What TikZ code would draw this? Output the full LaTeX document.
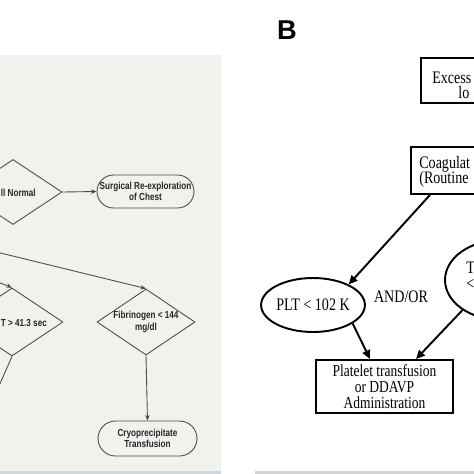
\documentclass[tikz,border=0pt]{standalone}
\usepackage{fontspec}
\setmainfont{Liberation Serif}
\newfontfamily\arialfont[FakeStretch=0.8]{Liberation Sans}
\newfontfamily\headfont{Liberation Sans}
\newfontfamily\timesfont[FakeStretch=0.8]{Liberation Serif}
\usetikzlibrary{arrows.meta,calc,shapes.geometric}
\definecolor{panelgray}{HTML}{F1F1EE}
\definecolor{barblue}{HTML}{CFD6DE}
\definecolor{bargray}{HTML}{D4D4D4}
\def\flowfont{\arialfont\bfseries\fontsize{5.8}{6.6}\selectfont}
\def\scanfont{\timesfont\fontsize{10}{8.3}\selectfont}
\def\platfont{\timesfont\fontsize{9.6}{9.2}\selectfont}

\begin{document}
\begin{tikzpicture}[x=0.02cm,y=-0.02cm,
	flowline/.style={draw=black!70,line width=0.5pt},
	flowarr/.style={flowline,-{Stealth[length=3.2pt,width=2.6pt]}},
	dia/.style={diamond,draw=black!70,line width=0.5pt,inner sep=0pt,aspect=1.5,font=\flowfont,text=black!85,align=center},
	term/.style={rectangle,draw=black!70,line width=0.5pt,inner sep=0pt,font=\flowfont,text=black!85,align=center},
	flowtxt/.style={font=\flowfont,text=black!85,inner sep=0pt},
	scanbox/.style={rectangle,draw,line width=1.1pt,inner sep=0pt,font=\scanfont,align=center},
	scanoval/.style={ellipse,draw,line width=1.1pt,inner sep=0pt,font=\scanfont},
	scantxt/.style={font=\scanfont,inner sep=0pt},
	scanarr/.style={draw,line width=1.1pt,-{Triangle[length=5pt,width=4.5pt]}}]
			%%%%% START %%%%%
			
			\useasboundingbox (0,0) rectangle (474,474);
			\fill[white] (0,0) rectangle (474,474);
			\fill[panelgray] (0,55) rectangle (221,471);
			\fill[barblue] (0,471) rectangle (221,474);
			\fill[bargray] (255,471) rectangle (474,474);
			
			% panel A
			\node[dia,minimum width=1.96cm,minimum height=1.30cm] (normdia) at (13,192) {};
			\node[flowtxt,anchor=west] (normtxt) at (0.5,192.5) {ll Normal};
			\node[term,minimum width=1.94cm,minimum height=0.66cm,rounded corners=0.33cm] (surg) at (145.5,191.5) {Surgical Re-exploration\\of Chest};
			
			\node[dia,minimum width=2.04cm,minimum height=1.36cm] (pttdia) at (12,322) {};
			\node[flowtxt,anchor=west] (ptttxt) at (0.5,323) {T > 41.3 sec};
			\node[dia,minimum width=1.96cm,minimum height=1.32cm] (fibdia) at (146,322) {Fibrinogen < 144\\mg/dl};
			\node[term,minimum width=1.98cm,minimum height=0.70cm,rounded corners=0.35cm] (cryo) at (147.5,438.5) {Cryoprecipitate\\Transfusion};
			
			\coordinate (fromabove) at (-20,248);
			\coordinate (fromleft) at (-10,279);
			\coordinate (toleft) at (-5,395);
			
			\draw[flowarr] (normdia.east) -- (surg.west);
			\draw[flowarr] (fromabove) -- (fibdia.north);
			\draw[flowarr] (fromleft) -- (pttdia.north);
			\draw[flowline] (pttdia.south) -- (toleft);
			\draw[flowarr] (fibdia.south) -- (cryo.north);
			
			% panel B
			\node[font=\headfont\bfseries\fontsize{15.5}{16}\selectfont,inner sep=0pt] (panelb) at (287,30) {B};
			
			\node[scanbox,anchor=north west,minimum width=2.8cm,minimum height=0.9cm] (excess) at (420,57) {};
			\node[scantxt,anchor=base west] (excesstxt) at (432,83) {Excess};
			\node[scantxt,anchor=base west] (losstxt) at (458,98) {lo};
			
			\node[scanbox,anchor=north west,minimum width=3.2cm,minimum height=0.94cm] (coag) at (410,146) {};
			\node[scantxt,anchor=base west] (coagtxt) at (419,168) {Coagulat};
			\node[scantxt,anchor=base west] (routtxt) at (419,183) {(Routine};
			
			\node[scanoval,minimum width=2.0cm,minimum height=1.08cm] (plt) at (313,305) {PLT < 102 K};
			\node[scanoval,minimum width=2.24cm,minimum height=1.6cm] (tt) at (501,280) {};
			\node[scantxt,anchor=base west] (tttxt) at (466,273) {T};
			\node[scantxt,anchor=base west] (lttxt) at (466,289) {<};
			\node[scantxt] (andor) at (401,297) {AND/OR};
			
			\node[scanbox,font=\platfont,minimum width=2.74cm,minimum height=1.06cm] (plat) at (384.5,386.5) {Platelet transfusion\\or DDAVP\\Administration};
			
			\draw[scanarr] ($(coag.south west)+(20,0)$) -- (plt.30);
			\draw[scanarr] (plt.-25) -- ($(plat.north west)+(55,0)$);
			\draw[scanarr] (tt.-142) -- ($(plat.north west)+(101,0)$);
			
			%%%%% END %%%%%
\end{tikzpicture}
\end{document}
